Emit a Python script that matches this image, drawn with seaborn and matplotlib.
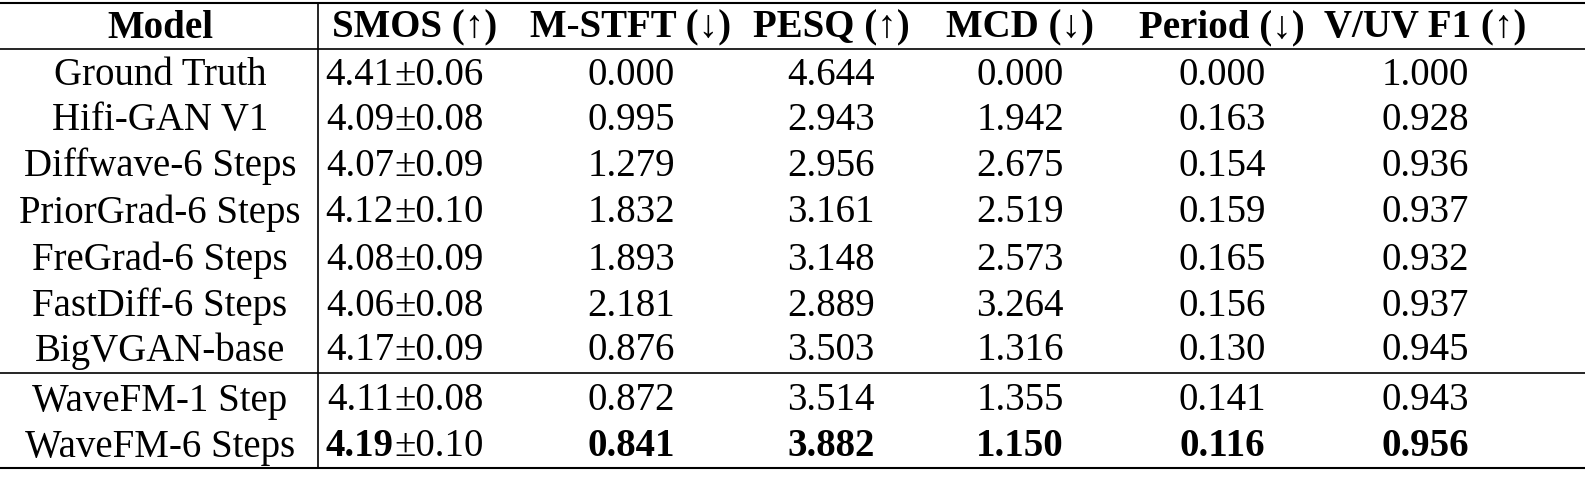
import matplotlib.pyplot as plt
import seaborn as sns

sns.set_theme(style="white")
plt.rcParams['font.family'] = ['Liberation Serif', 'DejaVu Serif']
plt.rcParams['text.color'] = 'black'

headers = ["Model", "SMOS (↑)", "M-STFT (↓)", "PESQ (↑)", "MCD (↓)", "Period (↓)", "V/UV F1 (↑)"]
models = ["Ground Truth", "Hifi-GAN V1", "Diffwave-6 Steps", "PriorGrad-6 Steps",
          "FreGrad-6 Steps", "FastDiff-6 Steps", "BigVGAN-base", "WaveFM-1 Step", "WaveFM-6 Steps"]
smos = ["4.41", "4.09", "4.07", "4.12", "4.08", "4.06", "4.17", "4.11", "4.19"]
smos_ci = ["0.06", "0.08", "0.09", "0.10", "0.09", "0.08", "0.09", "0.08", "0.10"]
mstft = ["0.000", "0.995", "1.279", "1.832", "1.893", "2.181", "0.876", "0.872", "0.841"]
pesq = ["4.644", "2.943", "2.956", "3.161", "3.148", "2.889", "3.503", "3.514", "3.882"]
mcd = ["0.000", "1.942", "2.675", "2.519", "2.573", "3.264", "1.316", "1.355", "1.150"]
period = ["0.000", "0.163", "0.154", "0.159", "0.165", "0.156", "0.130", "0.141", "0.116"]
vuv = ["1.000", "0.928", "0.936", "0.937", "0.932", "0.937", "0.945", "0.943", "0.956"]

col_x = [160, 415, 631, 831, 1020, 1222, 1425]
row_y = [72, 117, 163, 210, 257, 303, 348, 398, 444]
fs = 28

fig = plt.figure(figsize=(15.85, 4.78), dpi=100)
ax = fig.add_axes([0, 0, 1, 1])
ax.set_xlim(0, 1585)
ax.set_ylim(478, 0)
ax.axis('off')

for x, h in zip(col_x, headers):
    ax.text(x, 28, h, ha='center', va='center', fontsize=fs, fontweight='bold')

for i, y in enumerate(row_y):
    y = y + 3
    best = i == len(row_y) - 1
    w = 'bold' if best else 'normal'
    ax.text(col_x[0], y, models[i], ha='center', va='center', fontsize=fs)
    ax.text(394, y, smos[i], ha='right', va='center', fontsize=fs, fontweight=w)
    ax.text(394, y, "±" + smos_ci[i], ha='left', va='center', fontsize=fs)
    for x, col in zip(col_x[2:], [mstft, pesq, mcd, period, vuv]):
        ax.text(x, y, col[i], ha='center', va='center', fontsize=fs, fontweight=w)

for y, lw in [(3, 1.5), (49, 1.2), (373, 1.2), (468, 1.5)]:
    ax.plot([0, 1585], [y, y], color='black', lw=lw)
ax.plot([318, 318], [3, 468], color='black', lw=1.2)

fig.savefig("out.png", dpi=100)
